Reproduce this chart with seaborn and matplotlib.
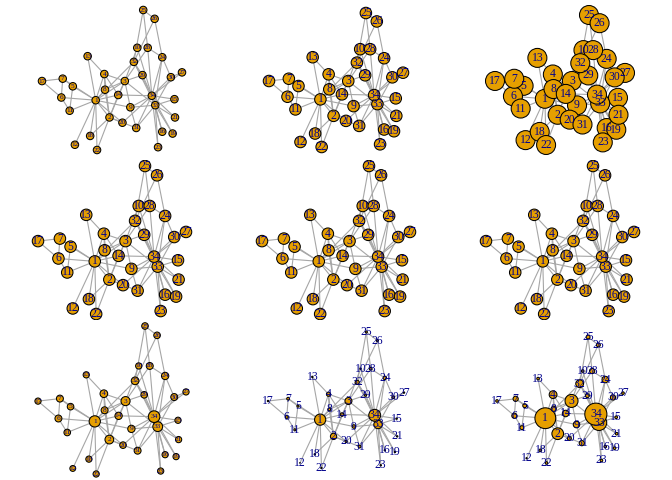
import numpy as np
import pandas as pd
import seaborn as sns
import matplotlib
matplotlib.use("Agg")
import matplotlib.pyplot as plt
from matplotlib.collections import LineCollection

## Zachary karate club: edges (1-indexed)
edge_from = [1, 1, 1, 1, 1, 1, 1, 1, 1, 1, 1, 1, 1, 1, 1, 1,
             2, 2, 2, 2, 2, 2, 2, 2,
             3, 3, 3, 3, 3, 3, 3, 3,
             4, 4, 4, 5, 5, 6, 6, 6, 7,
             9, 9, 9, 10, 14, 15, 15, 16, 16, 19, 19, 20, 21, 21, 23, 23,
             24, 24, 24, 24, 24, 25, 25, 25, 26, 27, 27, 28, 29, 29,
             30, 30, 31, 31, 32, 32, 33]
edge_to = [2, 3, 4, 5, 6, 7, 8, 9, 11, 12, 13, 14, 18, 20, 22, 32,
           3, 4, 8, 14, 18, 20, 22, 31,
           4, 8, 9, 10, 14, 28, 29, 33,
           8, 13, 14, 7, 11, 7, 11, 17, 17,
           31, 33, 34, 34, 34, 33, 34, 33, 34, 33, 34, 34, 33, 34, 33, 34,
           26, 28, 30, 33, 34, 26, 28, 32, 32, 30, 34, 34, 32, 34,
           33, 34, 33, 34, 33, 34, 34]

## Layout (scaled to [-1, 1]), vertex 1..34
layout_x = [-0.233, -0.036, 0.183, -0.110, -0.560, -0.724, -0.704, -0.100,
            0.262, 0.361, -0.605, -0.530, -0.348, 0.089, 0.892, 0.718,
            -1.000, -0.312, 0.866, 0.149, 0.900, -0.214, 0.658, 0.718,
            0.446, 0.609, 1.000, 0.510, 0.435, 0.841, 0.346, 0.312,
            0.618, 0.569]
layout_y = [-0.289, -0.535, -0.015, 0.085, -0.090, -0.250, 0.019, -0.139,
            -0.390, 0.460, -0.439, -0.925, 0.340, -0.214, -0.274, -0.739,
            -0.015, -0.799, -0.765, -0.610, -0.535, -1.000, -0.960, 0.325,
            1.000, 0.874, 0.109, 0.460, 0.070, 0.040, -0.685, 0.259,
            -0.360, -0.225]
node_names = [str(v) for v in range(1, len(layout_x) + 1)]

n = len(layout_x)
nodes = pd.DataFrame({"x": layout_x, "y": layout_y, "name": node_names})
deg = np.bincount(np.array(edge_from + edge_to) - 1, minlength=n)
nodes["degree"] = deg

# panel settings: px per layout unit, vertex diameter (px), label size (pt)
def const(d):
    return lambda k: np.full(n, d, dtype=float)

panels = [
    (70, const(7.5), 5.2),
    (67, const(11.5), 8.4),
    (65, const(19), 8.4),
    (74, const(11.5), 8.4),
    (74, const(11.5), 8.4),
    (74, const(11.5), 8.4),
    (74, lambda k: 5.5 + 0.36 * k, 5.4),
    (68, lambda k: 0.7 * k, 8.4),
    (63, lambda k: 1.3 * k, 8.4),
]

sns.set_style("white")
fig = plt.figure(figsize=(6.72, 4.8), dpi=100)
W, H = 672, 480
pw, ph = 224, 160

segs = [[(layout_x[a - 1], layout_y[a - 1]), (layout_x[b - 1], layout_y[b - 1])]
        for a, b in zip(edge_from, edge_to)]

for i, (scale, diam, fsize) in enumerate(panels):
    r, c = divmod(i, 3)
    ax = fig.add_axes([c * pw / W, 1 - (r + 1) * ph / H, pw / W, ph / H])
    ax.add_collection(LineCollection(segs, colors="#a6a6a6", linewidths=0.8, zorder=1))
    d = diam(nodes["degree"].to_numpy())
    sns.scatterplot(data=nodes, x="x", y="y", s=(0.72 * d) ** 2, color="#e69f00",
                    edgecolor="black", linewidth=0.75, ax=ax, zorder=2, legend=False)
    for x, y, name in zip(layout_x, layout_y, node_names):
        ax.text(x, y, name, ha="center", va="center",
                fontsize=fsize, color="#00008b", family="Liberation Serif", zorder=3)
    ax.set_xlim(-pw / 2 / scale, pw / 2 / scale)
    ax.set_ylim(-ph / 2 / scale, ph / 2 / scale)
    ax.set_axis_off()

fig.savefig("out.png", dpi=100)
